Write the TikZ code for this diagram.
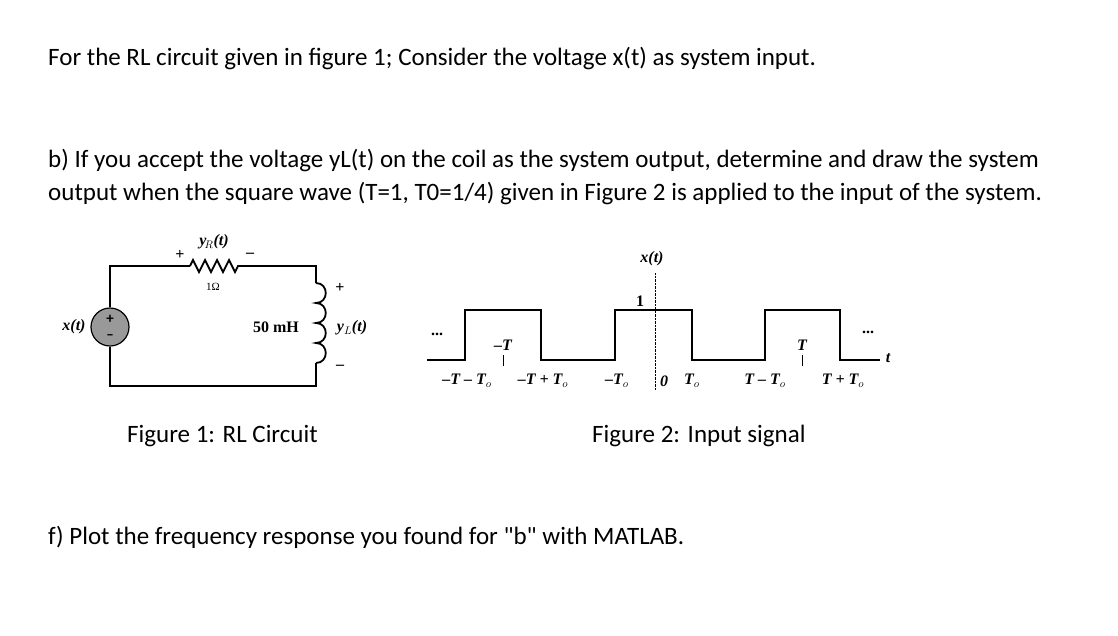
\documentclass[tikz,border=0pt]{standalone}
\usepackage{fontspec}
\setmainfont{Carlito}
\newfontfamily\ser{Liberation Serif}
\begin{document}
\begin{tikzpicture}[x=1pt,y=-1pt,
 txt/.style={anchor=base west,inner sep=0,font=\fontsize{25}{30}\selectfont},
 lab/.style={inner sep=0,font=\ser\bfseries\fontsize{16}{18}\selectfont},
 wire/.style={line width=1.8pt},
 sig/.style={line width=2.2pt}]
\def\tl{\ser\bfseries\itshape\fontsize{16}{18}\selectfont}
\useasboundingbox (0,0) rectangle (1118,635);
\node[txt] (l1) at (48,65) {For the RL circuit given in figure 1; Consider the voltage x(t) as system input.};
\node[txt] (l2) at (48,167) {b) If you accept the voltage yL(t) on the coil as the system output, determine and draw the system};
\node[txt] (l3) at (48,200) {output when the square wave (T=1, T0=1/4) given in Figure 2 is applied to the input of the system.};
\node[txt] (f1) at (127,442) {Figure 1: RL Circuit};
\node[txt] (f2) at (592,442) {Figure 2: Input signal};
\node[txt] (l4) at (48,544) {f) Plot the frequency response you found for \textquotedbl b\textquotedbl{} with MATLAB.};
% circuit
\coordinate (a) at (110,266); \coordinate (b) at (316,266);
\coordinate (c) at (316,386); \coordinate (d) at (110,386);
\coordinate (r1) at (190,266); \coordinate (r2) at (238,266);
\coordinate (i1) at (316,283); \coordinate (i2) at (316,363);
\node[circle,draw,line width=1.2pt,fill=gray!80,minimum size=38pt,inner sep=0] (src) at (110,327) {};
\node[font=\bfseries\fontsize{15}{15}\selectfont,inner sep=0] at (110,319) {+};
\node[font=\bfseries\fontsize{15}{15}\selectfont,inner sep=0] at (110,337) {–};
\draw[wire] (src.north) -- (a) -- (r1);
\draw[wire] (r1) -- ++(3,-6) -- ++(6,12) -- ++(6,-12) -- ++(6,12) -- ++(6,-12) -- ++(6,12) -- ++(6,-12) -- ++(6,12) -- (r2) -- (b) -- (i1);
\draw[wire] (i1) .. controls (329,283) and (329,303) .. (316,303)
 .. controls (329,303) and (329,323) .. (316,323)
 .. controls (329,323) and (329,343) .. (316,343)
 .. controls (329,343) and (329,363) .. (316,363);
\draw[wire] (i2) -- (c) -- (d) -- (src.south);
\node[lab,font=\tl] (yr) at (214,242) {y$_{\!R}$(t)};
\node[lab] at (180,255) {+};
\node[lab] at (250,255) {–};
\node[lab,font=\ser\fontsize{11}{12}\selectfont] at (213,287) {1Ω};
\node[lab,font=\tl] at (74,327) {x(t)};
\node[lab] at (276,327) {50 mH};
\node[lab,font=\tl] at (352,328) {y$_{L}$(t)};
\node[lab] at (340,288) {+};
\node[lab] at (340,367) {–};
% signal
\draw[thin,densely dotted] (655,273) -- (655,390);
\draw[sig] (427,360) -- (465,360) -- (465,310) -- (541,310) -- (541,360) -- (615,360) -- (615,310) -- (692,310) -- (692,360) -- (765,360) -- (765,310) -- (840,310) -- (840,360) -- (880,360);
\draw[thin] (503,355) -- (503,366); \draw[thin] (802,355) -- (802,366);
\node[lab,font=\tl] at (652,259) {x(t)};
\node[lab] at (640,301) {1};
\node[lab,font=\tl] at (503,345) {–T};
\node[lab,font=\tl] at (802,345) {T};
\node[lab,font=\tl] at (888,358) {t};
\node[lab] at (437,334) {...};
\node[lab] at (868,332) {...};
\node[lab,font=\tl] at (467,381) {–T – T$_o$};
\node[lab,font=\tl] at (543,381) {–T + T$_o$};
\node[lab,font=\tl] at (617,381) {–T$_o$};
\node[lab,font=\tl] at (664,381) {0};
\node[lab,font=\tl] at (692,381) {T$_o$};
\node[lab,font=\tl] at (765,381) {T – T$_o$};
\node[lab,font=\tl] at (843,381) {T + T$_o$};
\end{tikzpicture}
\end{document}
